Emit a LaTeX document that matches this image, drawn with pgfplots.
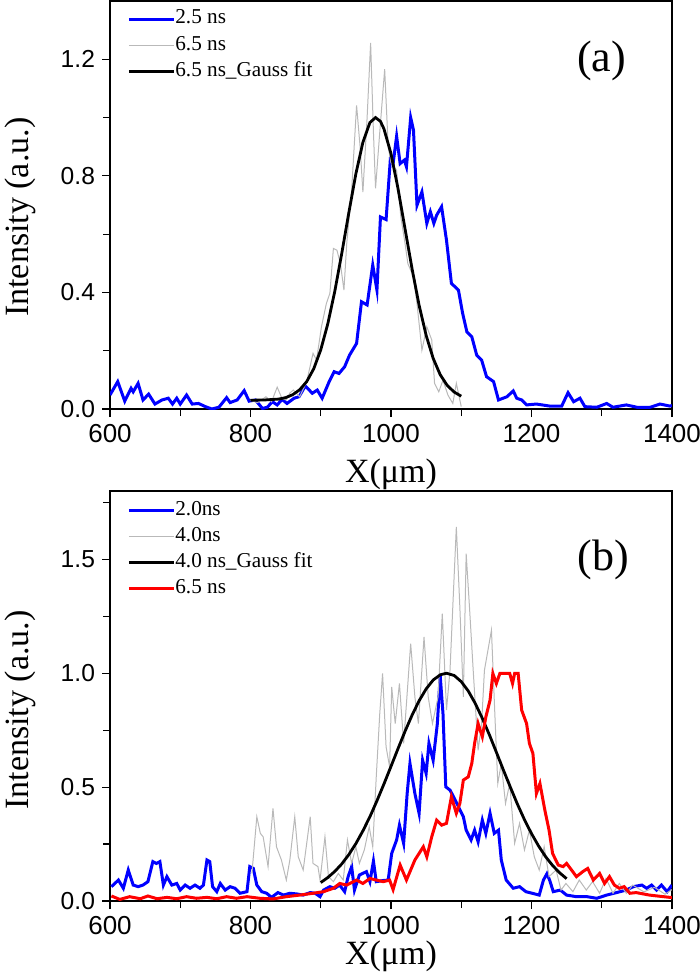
\documentclass[border=0pt]{standalone}
\usepackage{fontspec}
\setmainfont{Liberation Serif}
\newfontfamily\arialf{Liberation Sans}
\usepackage{pgfplots}
\pgfplotsset{compat=1.18}
\definecolor{lgray}{RGB}{185,185,185}
\pgfplotsset{
  panel/.style={
    width=281pt, scale only axis,
    xmin=600, xmax=1400,
    xtick={600,800,...,1400}, minor xtick={700,900,1100,1300},
    tick align=outside, xtick pos=left, ytick pos=left,
    major tick length=4pt, minor tick length=3.5pt,
    every tick/.style={black, line width=0.6pt},
    axis line style={line width=0.7pt},
    xticklabel style={font=\arialf\fontsize{13}{14}\selectfont, /pgf/number format/1000 sep={}},
    yticklabel style={font=\arialf\fontsize{12.3}{14}\selectfont, /pgf/number format/fixed, /pgf/number format/fixed zerofill, /pgf/number format/precision=1},
    /pgf/number format/assume math mode=true,
    label style={font=\fontsize{17}{20}\selectfont},
    xlabel={X(μm)},
    ylabel={Intensity (a.u.)},
    legend cell align=left,
    legend image code/.code={\draw[##1] (0pt,0pt) -- (22.5pt,0pt);},
    legend style={draw=none, fill=none, anchor=north west, inner sep=0pt,
      font=\fontsize{10.6}{12}\selectfont, row sep=3.6pt,
      nodes={inner sep=0pt, text height=7.2pt, text depth=2.3pt},
      /tikz/every even column/.append style={column sep=3pt}},
  }
}
\begin{document}
\begin{tikzpicture}
\useasboundingbox (0,0) rectangle (350pt,-489pt);
% ---------------- panel (a)
\begin{axis}[panel, at={(55pt,-204.5pt)}, anchor=south west, height=204pt,
  ymin=0, ymax=1.4, ytick={0,0.4,0.8,1.2}, minor ytick={0.2,0.6,1.0},
  xlabel style={at={(axis description cs:0.5,-0.16)}, anchor=center},
  ylabel style={at={(axis description cs:-0.16,0.47)}, anchor=center},
  legend style={at={(axis description cs:0.0302,0.980)}}]
\addplot[blue, line width=1.5pt] coordinates {
(600,0.048)(611,0.094)(621,0.027)(630,0.071)(633,0.059)(640,0.088)(647,0.031)(655,0.051)
(664,0.017)(674,0.031)(683,0.037)(689,0.017)(695,0.037)(700,0.017)(709,0.048)(717,0.017)
(726,0.019)(736,0.008)(745,0.0)(755,0.006)(766,0.039)(771,0.022)(781,0.031)(791,0.063)
(798,0.027)(807,0.031)(817,0.002)(824,0.006)(831,0.025)(838,0.014)(845,0.033)(852,0.019)
(862,0.037)(869,0.042)(878,0.079)(888,0.054)(895,0.065)(902,0.037)(912,0.094)(919,0.128)
(926,0.122)(934,0.145)(941,0.185)(951,0.225)(958,0.368)(966,0.357)(974,0.494)(980,0.408)
(985,0.659)(993,0.650)(999,0.854)(1003,0.842)(1008,0.936)(1013,0.842)(1019,0.854)(1022,0.831)
(1028,1.0)(1032,0.957)(1037,0.699)(1044,0.745)(1051,0.637)(1056,0.677)(1061,0.637)(1065,0.665)
(1072,0.694)(1079,0.579)(1086,0.431)(1096,0.408)(1102,0.328)(1108,0.265)(1115,0.248)(1122,0.185)
(1129,0.168)(1136,0.111)(1146,0.094)(1153,0.031)(1165,0.042)(1174,0.062)(1179,0.037)(1186,0.031)
(1193,0.014)(1207,0.017)(1226,0.010)(1243,0.010)(1252,0.056)(1260,0.025)(1269,0.037)(1276,0.008)
(1293,0.006)(1307,0.019)(1316,0.006)(1335,0.014)(1350,0.006)(1369,0.006)(1383,0.017)(1397,0.010)
(1400,0.012)};
\addlegendentry{2.5 ns}
\addplot[lgray, line width=0.5pt] coordinates {
(800,0.030)(810,0.022)(822,0.042)(830,0.025)(838,0.075)(845,0.035)(851,0.031)(856,0.055)
(861,0.065)(870,0.042)(880,0.094)(889,0.191)(894,0.168)(901,0.282)(908,0.362)(913,0.397)
(918,0.551)(923,0.545)(928,0.499)(933,0.408)(937,0.568)(944,0.751)(951,1.042)(956,0.90)
(960,0.744)(966,1.0)(971,1.256)(975,0.95)(978,0.757)(984,0.95)(991,1.166)(996,0.90)
(1000,0.845)(1008,0.819)(1014,0.659)(1020,0.568)(1024,0.499)(1032,0.454)(1037,0.362)(1044,0.202)
(1051,0.282)(1058,0.237)(1062,0.088)(1068,0.059)(1074,0.099)(1081,0.048)(1088,0.019)(1093,0.088)
(1100,0.008)};
\addlegendentry{6.5 ns}
\addplot[black, line width=1.4pt] coordinates {
(800,0.030)(820,0.031)(840,0.034)(850,0.039)(860,0.049)(870,0.066)(880,0.094)(890,0.138)
(900,0.203)(910,0.292)(920,0.404)(930,0.535)(940,0.674)(950,0.807)(960,0.915)(970,0.983)
(978,1.000)(985,0.987)(990,0.961)(1000,0.876)(1010,0.756)(1020,0.618)(1030,0.481)(1040,0.356)
(1050,0.253)(1060,0.174)(1070,0.118)(1080,0.081)(1090,0.058)(1100,0.044)};
\addlegendentry{6.5 ns\_Gauss fit}
\node at (axis cs:1300,1.193) {\fontsize{22}{26}\selectfont (a)};
\end{axis}
% ---------------- panel (b)
\begin{axis}[panel, at={(55pt,-450.5pt)}, anchor=south west, height=205pt,
  ymin=0, ymax=1.8, ytick={0,0.5,1.0,1.5}, minor ytick={0.25,0.75,1.25,1.75},
  xlabel style={at={(axis description cs:0.5,-0.135)}, anchor=center},
  ylabel style={at={(axis description cs:-0.16,0.466)}, anchor=center},
  legend style={at={(axis description cs:0.0302,0.977)}}]
\addplot[blue, line width=1.5pt] coordinates {
(602,0.063)(612,0.092)(619,0.056)(626,0.136)(633,0.070)(640,0.063)(647,0.070)(654,0.085)
(661,0.173)(666,0.165)(671,0.173)(676,0.070)(681,0.107)(688,0.070)(695,0.077)(700,0.048)
(707,0.070)(714,0.056)(721,0.070)(728,0.056)(733,0.070)(738,0.180)(742,0.173)(746,0.063)
(752,0.041)(757,0.077)(764,0.048)(771,0.063)(778,0.056)(785,0.034)(795,0.041)(799,0.151)
(804,0.143)(809,0.070)(816,0.041)(823,0.034)(830,0.016)(839,0.037)(847,0.026)(856,0.034)
(866,0.031)(875,0.026)(885,0.037)(892,0.034)(899,0.019)(904,0.048)(913,0.063)(920,0.056)
(927,0.070)(934,0.041)(939,0.107)(944,0.151)(948,0.048)(955,0.114)(965,0.129)(970,0.085)
(975,0.175)(979,0.085)(989,0.090)(996,0.092)(1001,0.209)(1008,0.268)(1012,0.333)(1018,0.253)
(1023,0.472)(1027,0.604)(1034,0.472)(1040,0.385)(1045,0.618)(1050,0.560)(1054,0.692)(1060,0.618)
(1066,0.779)(1070,0.991)(1074,0.823)(1078,0.501)(1084,0.487)(1089,0.458)(1096,0.414)(1103,0.370)
(1107,0.311)(1114,0.268)(1119,0.311)(1124,0.260)(1130,0.355)(1135,0.297)(1141,0.385)(1147,0.297)
(1153,0.311)(1157,0.180)(1164,0.092)(1174,0.056)(1183,0.063)(1192,0.041)(1201,0.034)(1211,0.026)
(1217,0.092)(1222,0.120)(1226,0.090)(1231,0.041)(1241,0.048)(1250,0.026)(1264,0.019)(1279,0.019)
(1293,0.012)(1307,0.026)(1321,0.037)(1335,0.048)(1345,0.063)(1357,0.070)(1364,0.056)(1371,0.070)
(1378,0.048)(1385,0.070)(1393,0.041)(1400,0.070)};
\addlegendentry{2.0ns}
\addplot[lgray, line width=0.5pt] coordinates {
(802,0.121)(809,0.370)(814,0.297)(818,0.282)(825,0.151)(832,0.406)(837,0.238)(844,0.180)
(851,0.092)(856,0.180)(863,0.370)(868,0.194)(875,0.136)(885,0.370)(889,0.165)(896,0.151)
(899,0.092)(906,0.282)(911,0.107)(918,0.085)(925,0.121)(932,0.092)(938,0.268)(944,0.165)
(950,0.238)(955,0.165)(962,0.224)(969,0.326)(974,0.238)(979,0.545)(984,0.823)(988,0.999)
(993,0.677)(998,0.589)(1001,0.940)(1006,0.779)(1012,0.955)(1018,0.692)(1028,1.130)(1034,0.896)
(1039,0.779)(1047,1.159)(1053,0.896)(1059,0.779)(1067,0.896)(1073,1.262)(1079,0.838)(1084,1.013)
(1089,1.364)(1093,1.642)(1098,1.291)(1103,0.896)(1107,1.525)(1112,1.276)(1117,1.013)(1124,0.662)
(1129,0.779)(1133,1.013)(1138,1.101)(1143,1.189)(1148,0.808)(1152,0.516)(1157,0.604)(1163,0.428)
(1169,0.516)(1176,0.253)(1183,0.341)(1190,0.224)(1197,0.311)(1204,0.194)(1211,0.136)(1218,0.238)
(1225,0.107)(1235,0.136)(1242,0.048)(1249,0.077)(1259,0.041)(1268,0.092)(1278,0.048)(1287,0.085)
(1297,0.034)(1306,0.099)(1316,0.034)(1325,0.077)(1335,0.034)(1344,0.070)(1360,0.040)(1375,0.060)
(1390,0.030)(1400,0.050)};
\addlegendentry{4.0ns}
\addplot[black, line width=1.4pt] coordinates {
(900,0.081)(910,0.103)(920,0.130)(930,0.163)(940,0.204)(950,0.252)(960,0.308)(970,0.370)
(980,0.440)(990,0.514)(1000,0.591)(1010,0.669)(1020,0.745)(1030,0.816)(1040,0.879)(1050,0.931)
(1060,0.970)(1070,0.993)(1079,1.000)(1090,0.990)(1100,0.963)(1110,0.922)(1120,0.867)(1130,0.802)
(1140,0.730)(1150,0.653)(1160,0.575)(1170,0.499)(1180,0.425)(1190,0.357)(1200,0.296)(1210,0.242)
(1220,0.195)(1230,0.156)(1240,0.124)(1250,0.098)};
\addlegendentry{4.0 ns\_Gauss fit}
\addplot[red, line width=1.5pt] coordinates {
(602,0.022)(614,0.007)(628,0.019)(643,0.010)(654,0.022)(667,0.010)(681,0.016)(695,0.010)
(709,0.019)(723,0.012)(738,0.016)(752,0.010)(766,0.019)(780,0.012)(795,0.019)(813,0.012)
(832,0.009)(851,0.019)(870,0.026)(889,0.034)(904,0.041)(918,0.056)(927,0.077)(937,0.070)
(951,0.092)(960,0.077)(970,0.099)(979,0.092)(989,0.085)(998,0.092)(1003,0.050)(1013,0.158)
(1022,0.092)(1034,0.180)(1046,0.238)(1051,0.194)(1058,0.282)(1065,0.355)(1072,0.333)(1079,0.341)
(1086,0.458)(1093,0.385)(1098,0.428)(1103,0.531)(1110,0.545)(1115,0.604)(1119,0.692)(1124,0.779)
(1130,0.721)(1135,0.808)(1141,0.882)(1145,0.999)(1150,0.955)(1155,0.999)(1169,0.999)(1173,0.955)
(1176,0.999)(1181,0.999)(1186,0.838)(1193,0.779)(1197,0.692)(1202,0.648)(1207,0.472)(1212,0.516)
(1219,0.399)(1225,0.311)(1230,0.209)(1238,0.158)(1245,0.151)(1250,0.165)(1257,0.136)(1264,0.107)
(1273,0.129)(1280,0.143)(1288,0.092)(1297,0.121)(1304,0.077)(1311,0.107)(1318,0.070)(1325,0.056)
(1332,0.063)(1340,0.034)(1349,0.037)(1368,0.026)(1385,0.020)(1400,0.015)};
\addlegendentry{6.5 ns}
\node at (axis cs:1302,1.498) {\fontsize{22}{26}\selectfont (b)};
\end{axis}
\end{tikzpicture}
\end{document}
